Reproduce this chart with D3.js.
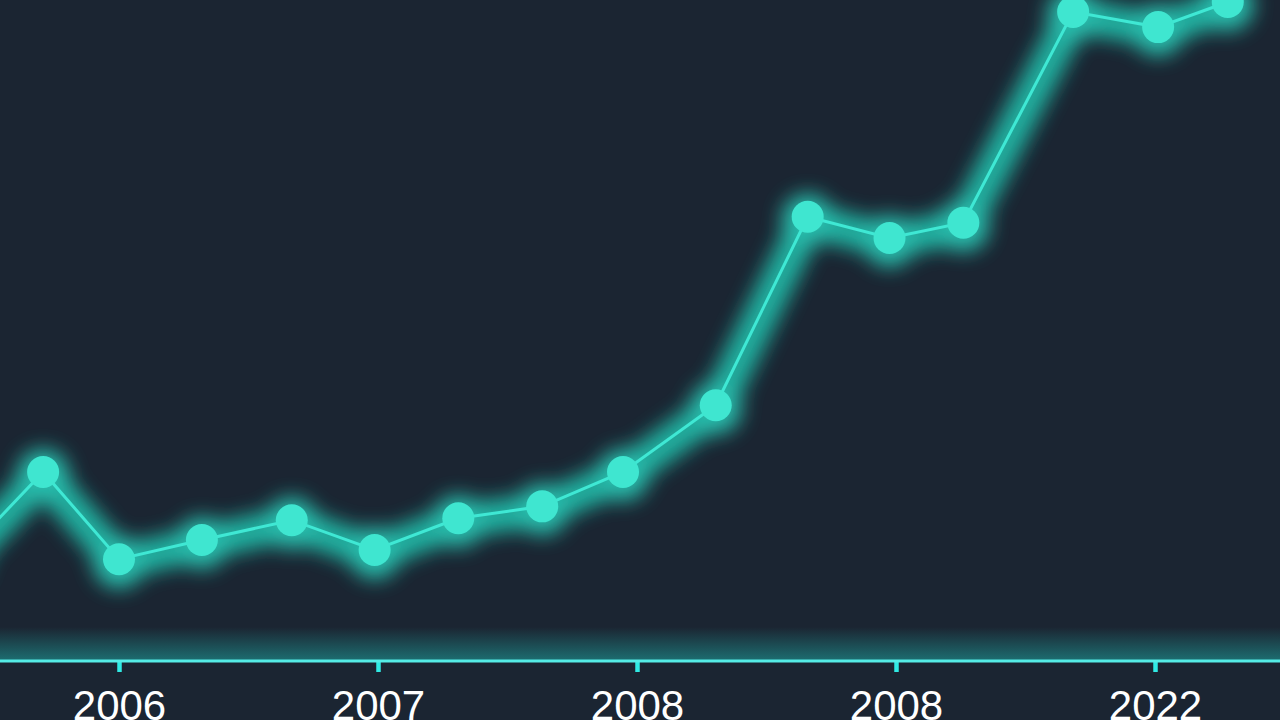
<!DOCTYPE html>
<html>
<head>
<meta charset="utf-8">
<script src="https://cdn.jsdelivr.net/npm/d3@7"></script>
<style>
  html, body { margin: 0; padding: 0; background: #1b2532; overflow: hidden; }
  svg { display: block; }
</style>
</head>
<body>
<svg id="chart" width="1280" height="720"></svg>
<script>
// Data (x in axis-tick units, y in arbitrary value units)
const xPos   = [-0.613, -0.293, 0, 0.320, 0.667, 0.987, 1.310, 1.634, 1.946, 2.304, 2.659, 2.975, 3.260, 3.684, 4.012, 4.281];
const values = [15.4, 28.6, 15.4, 18.3, 21.3, 16.8, 21.6, 23.4, 28.6, 38.7, 67.2, 64.0, 66.3, 98.2, 95.9, 99.7];
const tickPos    = [0, 1, 2, 3, 4];
const tickLabels = ["2006", "2007", "2008", "2008", "2022"];

const W = 1280, H = 720;
const axisY = 661;
const svg = d3.select("#chart");

const x = d3.scaleLinear().domain([-119 / 259, (W - 119) / 259]).range([0, W]);
const y = d3.scaleLinear().domain([0, 100]).range([axisY, 0]);

const data = xPos.map((d, i) => ({ x: d, v: values[i] }));

const defs = svg.append("defs");
const glow = defs.append("filter").attr("id", "glow")
  .attr("x", "-20%").attr("y", "-20%").attr("width", "140%").attr("height", "140%");
glow.append("feGaussianBlur").attr("stdDeviation", 10);

const axisGlow = defs.append("filter").attr("id", "axisGlow")
  .attr("x", "-5%").attr("y", "-200%").attr("width", "110%").attr("height", "500%");
axisGlow.append("feGaussianBlur").attr("stdDeviation", 8);

const grad = defs.append("linearGradient").attr("id", "axisGrad")
  .attr("x1", 0).attr("y1", 0).attr("x2", 0).attr("y2", 1);
grad.append("stop").attr("offset", "0%").attr("stop-color", "#1fb8b0").attr("stop-opacity", 0);
grad.append("stop").attr("offset", "100%").attr("stop-color", "#1fb8b0").attr("stop-opacity", 0.5);

// axis glow band
svg.append("rect").attr("x", 0).attr("y", axisY - 34).attr("width", W).attr("height", 34)
  .attr("fill", "url(#axisGrad)");
svg.append("line").attr("x1", -20).attr("x2", W + 20).attr("y1", axisY).attr("y2", axisY)
  .attr("stroke", "#22c8c0").attr("stroke-width", 16).attr("opacity", 0.45)
  .attr("filter", "url(#axisGlow)");

// axis
const axis = d3.axisBottom(x).tickValues(tickPos).tickFormat((d, i) => tickLabels[i])
  .tickSize(11).tickPadding(18);
const gAxis = svg.append("g").attr("transform", `translate(0,${axisY})`).call(axis);
gAxis.select(".domain").remove();
gAxis.selectAll(".tick line").attr("stroke", "#30eae4").attr("stroke-width", 4.5);
gAxis.selectAll(".tick text").attr("fill", "#ffffff")
  .attr("font-family", "Liberation Sans, Arial, sans-serif").attr("font-size", 42);
svg.append("line").attr("x1", 0).attr("x2", W).attr("y1", axisY).attr("y2", axisY)
  .attr("stroke", "#55ece6").attr("stroke-width", 3);

const line = d3.line().x(d => x(d.x)).y(d => y(d.v));

// glow layer
const gGlow = svg.append("g").attr("filter", "url(#glow)").attr("opacity", 0.85)
  .attr("transform", "translate(0,3)");
gGlow.append("path").datum(data).attr("d", line)
  .attr("fill", "none").attr("stroke", "#22c9b4").attr("stroke-width", 34)
  .attr("stroke-linejoin", "round").attr("stroke-linecap", "round");
gGlow.selectAll("circle").data(data).join("circle")
  .attr("cx", d => x(d.x)).attr("cy", d => y(d.v)).attr("r", 26).attr("fill", "#2ad8c2");

// crisp line and dots
svg.append("path").datum(data).attr("d", line)
  .attr("fill", "none").attr("stroke", "#3fe8d4").attr("stroke-width", 3);
svg.selectAll("circle.dot").data(data).join("circle").attr("class", "dot")
  .attr("cx", d => x(d.x)).attr("cy", d => y(d.v)).attr("r", 16).attr("fill", "#3fe6d0");
</script>
</body>
</html>
